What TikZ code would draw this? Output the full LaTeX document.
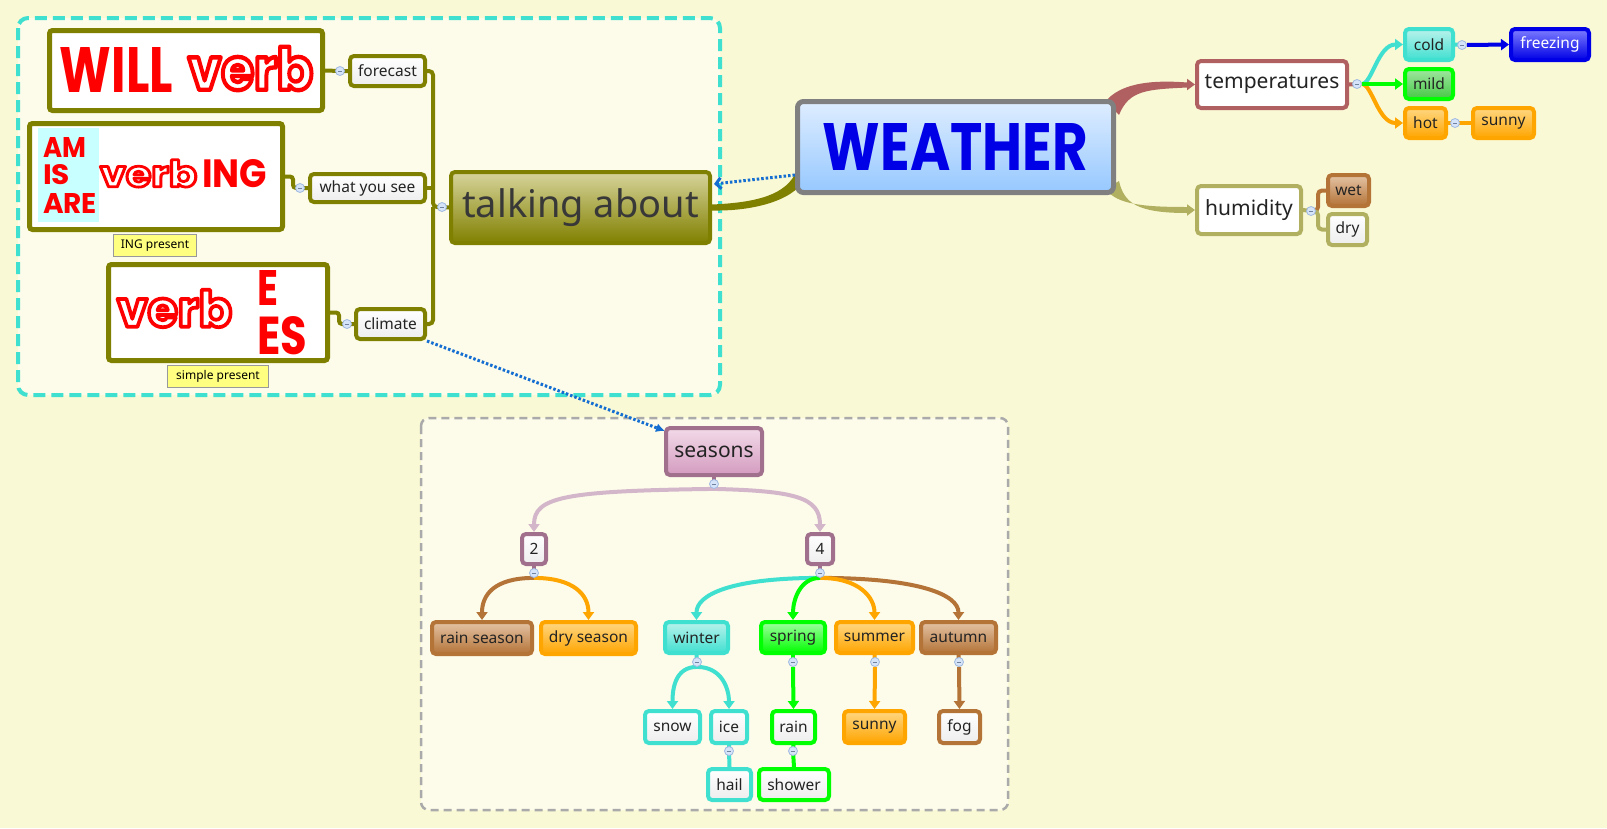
\documentclass[tikz,border=0pt]{standalone}
\usepackage{fontspec}
\usepackage{graphicx}
\usetikzlibrary{arrows.meta,calc,backgrounds}
\setmainfont{Noto Sans}
\newfontfamily\bubble{Poppins}
\definecolor{pagebg}{RGB}{250,249,214}
\definecolor{zonebg}{RGB}{253,252,234}
\definecolor{zonegray}{RGB}{170,170,170}
\definecolor{olivec}{RGB}{128,128,0}
\definecolor{olivelt}{RGB}{215,212,155}
\definecolor{rosec}{RGB}{176,96,96}
\definecolor{khakic}{RGB}{176,176,96}
\definecolor{turq}{RGB}{64,224,208}
\definecolor{turqlt}{RGB}{185,242,236}
\definecolor{limec}{RGB}{0,255,0}
\definecolor{limelt}{RGB}{160,255,160}
\definecolor{mildc}{RGB}{70,200,70}
\definecolor{mildlt}{RGB}{160,230,160}
\definecolor{orangec}{RGB}{255,165,0}
\definecolor{orangelt}{RGB}{255,215,130}
\definecolor{brownc}{RGB}{180,115,55}
\definecolor{brownlt}{RGB}{228,195,165}
\definecolor{bluec}{RGB}{0,0,230}
\definecolor{bluelt}{RGB}{125,125,255}
\definecolor{mauvec}{RGB}{160,112,140}
\definecolor{mauvelt}{RGB}{242,218,232}
\definecolor{mauvefill}{RGB}{212,155,192}
\definecolor{mauvewire}{RGB}{212,182,202}
\definecolor{weatherc}{RGB}{128,128,128}
\definecolor{skytop}{RGB}{222,237,255}
\definecolor{skybot}{RGB}{150,200,255}
\definecolor{linkc}{RGB}{20,110,210}
\definecolor{notec}{RGB}{255,255,128}
\definecolor{cyanbg}{RGB}{200,255,255}
\definecolor{txtc}{RGB}{35,35,35}
\definecolor{foldfill}{RGB}{214,228,250}
\definecolor{folddraw}{RGB}{160,185,225}
\newcommand\bubw[4]{\resizebox{#1pt}{#2pt}{\fontsize{40}{40}\bubble\bfseries\selectfont\color{#3}#4}}
% white letters with a red outline
\newcommand\bubo[3]{\resizebox{#1pt}{#2pt}{\fontsize{40}{40}\bubble\bfseries\selectfont\color{white}%
  \special{pdf:literal direct 2 Tr 3 w 1 j 1 0 0 RG}#3\special{pdf:literal direct 0 Tr}}}
\tikzset{
  mm/.style={line width=4pt, rounded corners=4pt, inner sep=0pt, text=txtc, font=\fontsize{15.5}{18}\selectfont},
  pale/.style={mm, draw=#1, top color=white, bottom color=black!7},
  tint/.style 2 args={mm, draw=#1, top color=#2, bottom color=#1},
  sz/.style 2 args={minimum width=#1pt, minimum height=#2pt},
  big/.style={font=\fontsize{21}{25}\selectfont},
  picframe/.style={draw=olivec, line width=5pt, fill=white, rounded corners=3pt, inner sep=0pt},
  tag/.style={draw=black!40, line width=0.8pt, fill=notec, inner sep=0pt, text=black, font=\fontsize{12}{14}\selectfont},
  bub/.style={inner sep=0pt},
  wire/.style={draw=#1, line width=4pt},
  head/.style={-{Triangle[width=11pt,length=8pt]}},
  dotlink/.style={draw=linkc, line width=3pt, dash pattern=on 2.5pt off 2pt},
  fold/.style={circle, inner sep=0pt, minimum size=9pt, fill=foldfill, draw=folddraw, line width=0.8pt,
    path picture={\draw[folddraw!70!black, line width=0.7pt]
      ($(path picture bounding box.center)+(-2.3,0)$) -- ($(path picture bounding box.center)+(2.3,0)$);}}
}
\begin{document}
\begin{tikzpicture}[x=1pt,y=-1pt]
\useasboundingbox (0,0) rectangle (1607,828);
% central topic
\node[mm, draw=weatherc, line width=5pt, rounded corners=6pt, top color=skytop, bottom color=skybot, sz={316}{91}] (weather) at (955.5,147) {\bubw{265}{47}{bluec}{WEATHER}};
% pictures of the three tenses
\node[picframe, sz={273}{80}] (willbox) at (186,70.5) {};
\node[bub] (willword) at (116.5,69.5) {\bubw{113}{45}{red}{WILL}};
\node[bub] (willverb) at (250.5,68.5) {\bubo{125}{43}{verb}};
\node[picframe, sz={253}{106}] (ingbox) at (156,176.5) {};
\fill[cyanbg] (38,128) rectangle (99,222);
\foreach \w/\x/\y/\b in {AM/64.5/147/43,IS/56.5/175/27,ARE/70/203/54}
  \node[bub] (w-\w) at (\x,\y) {\bubw{\b}{20}{red}{\w}};
\node[bub] (ingverb) at (148.5,173.5) {\bubo{97}{27}{verb}};
\node[bub] (ingword) at (234.5,174) {\bubw{65}{28}{red}{ING}};
\node[tag, sz={83}{22}] (ingnote) at (155,245.5) {ING present};
\node[picframe, sz={219}{96}] (esbox) at (218,312.5) {};
\node[bub] (esverb) at (174.5,308.5) {\bubo{115}{37}{verb}};
\node[bub] (eword) at (267.5,287.5) {\bubw{21}{35}{red}{E}};
\node[bub] (esword) at (282,336) {\bubw{50}{38}{red}{ES}};
\node[tag, sz={101}{22}] (simplenote) at (218,376.5) {simple present};
% talking about
\node[pale=olivec, sz={75}{30}] (forecast) at (387.5,71) {forecast};
\node[pale=olivec, sz={115}{28}] (whatsee) at (367.5,188) {what you see};
\node[pale=olivec, sz={69}{30}] (climate) at (390.5,324) {climate};
\node[mm, draw=olivec, top color=olivelt, bottom color=olivec, text=black!78, font=\fontsize{38}{44}\selectfont, sz={259}{71}] (talking) at (580.5,207.5) {talking about};
% temperatures and humidity
\node[mm, big, draw=rosec, fill=white, sz={150}{47}] (temperatures) at (1272,84.5) {temperatures};
\node[tint={turq}{turqlt}, sz={48}{31}] (cold) at (1429,44.5) {cold};
\node[mm, draw=limec, top color=mildlt, bottom color=mildc, sz={48}{30}] (mild) at (1429,84) {mild};
\node[tint={orangec}{orangelt}, sz={41}{30}] (hot) at (1425.5,123) {hot};
\node[tint={bluec}{bluelt}, text=white, sz={78}{31}] (freezing) at (1550,44.5) {freezing};
\node[tint={orangec}{orangelt}, sz={61}{30}] (sunnyA) at (1503.5,123) {sunny};
\node[mm, big, draw=khakic, fill=white, sz={104}{48}] (humidity) at (1249,210) {humidity};
\node[tint={brownc}{brownlt}, sz={41}{31}] (wet) at (1348.5,190.5) {wet};
\node[pale=khakic, sz={39}{31}] (dry) at (1347.5,229.5) {dry};
% seasons
\node[mm, big, draw=mauvec, top color=mauvelt, bottom color=mauvefill, sz={96}{47}] (seasons) at (714,451.5) {seasons};
\node[pale=mauvec, sz={24}{30}] (two) at (534,549) {2};
\node[pale=mauvec, sz={26}{30}] (four) at (820,549) {4};
\node[tint={brownc}{brownlt}, sz={100}{32}] (rainseason) at (482,638) {rain season};
\node[tint={orangec}{orangelt}, sz={95}{32}] (dryseason) at (588.5,638) {dry season};
\node[tint={turq}{turqlt}, sz={63}{31}] (winter) at (696.5,637.5) {winter};
\node[tint={limec}{limelt}, sz={64}{31}] (spring) at (793,637.5) {spring};
\node[tint={orangec}{orangelt}, sz={77}{31}] (summer) at (874.5,637.5) {summer};
\node[tint={brownc}{brownlt}, sz={75}{31}] (autumn) at (958.5,637.5) {autumn};
\node[pale=turq, sz={55}{32}] (snow) at (672.5,727) {snow};
\node[pale=turq, sz={36}{32}] (ice) at (729,727) {ice};
\node[pale=turq, sz={43}{31}] (hail) at (729.5,784.5) {hail};
\node[pale=limec, sz={43}{32}] (rain) at (793.5,727) {rain};
\node[pale=limec, sz={70}{31}] (shower) at (794,784.5) {shower};
\node[tint={orangec}{orangelt}, sz={61}{32}] (sunnyB) at (874.5,727) {sunny};
\node[pale=brownc, sz={41}{32}] (fog) at (959.5,727) {fog};
% fold markers
\foreach \n/\x/\y in {will/340/71,see/300/188,clim/347/324,talk/442/207,temp/1357/84,cold/1462/45,hot/1455/123,hum/1311/211,seas/714/484,two/534/573,four/820/573,winter/697/662,spring/793/662,summer/875/662,autumn/959/662,ice/729/751,rain/793/751}
  \node[fold] (m-\n) at (\x,\y) {};
%===========================================
\begin{pgfonlayer}{background}
\fill[pagebg] (0,0) rectangle (1607,828);
\draw[turq, line width=4pt, dash pattern=on 12pt off 6pt, rounded corners=10pt, fill=zonebg] (18,18) rectangle (720,395);
\draw[zonegray, line width=2.5pt, dash pattern=on 8pt off 5pt, rounded corners=8pt, fill=zonebg] (421,418) rectangle (1008,810);
% main branches
\fill[olivec] ($(weather.south west)+(2,-25)$) .. controls +(-10,25) and +(45,-2) .. ($(talking.east)+(0,-3)$)
  -- ($(talking.east)+(0,3)$) .. controls +(55,1) and +(0,20) .. ($(weather.south west)+(10,-22)$) -- cycle;
\fill[rosec] ($(weather.north east)+(3,16)$) .. controls +(10,-25) and +(-40,2) .. ($(temperatures.west)+(-8,3)$)
  -- ($(temperatures.west)+(-8,-2)$) .. controls +(-50,-4) and +(10,-12) .. ($(weather.north east)+(-10,2)$) -- cycle;
\draw[wire=rosec, head] ($(temperatures.west)+(-10,0)$) -- (temperatures.west);
\fill[khakic] ($(weather.south east)+(-10,-6)$) .. controls +(10,16) and +(-40,0) .. ($(humidity.west)+(-8,-3)$)
  -- ($(humidity.west)+(-8,3)$) .. controls +(-50,0) and +(5,22) .. ($(weather.south east)+(3,-14)$) -- cycle;
\draw[wire=khakic, head] ($(humidity.west)+(-10,0)$) -- (humidity.west);
% talking about
\draw[wire=olivec] (talking.west) -- (m-talk.center);
\draw[wire=olivec, rounded corners=4pt] (m-talk.center) -- ++(-9,0) coordinate (tk) |- (forecast.east);
\draw[wire=olivec, rounded corners=4pt] (tk) |- (climate.east);
\draw[wire=olivec] (tk |- whatsee.east) -- (whatsee.east);
\draw[wire=olivec] (forecast.west) -- (m-will.center) -- (willbox.east);
\draw[wire=olivec, rounded corners=3pt] (whatsee.west) -- (m-see.center) -- ++(-7,0) |- (ingbox.east);
\draw[wire=olivec, rounded corners=3pt] (climate.west) -- (m-clim.center) -- ++(-8,0) |- (esbox.east);
% relations
\draw[dotlink, -{Straight Barb[length=5pt,width=11pt]}] ($(weather.south west)+(0,-20)$) -- ($(talking.north east)+(2,14)$);
\draw[dotlink, -{Latex[length=9pt,width=9pt]}] (climate.south east) -- ($(seasons.north west)+(1,5)$);
% temperatures
\draw[wire=rosec] (temperatures.east) -- (m-temp.center);
\draw[wire=turq, head] (m-temp.east) .. controls +(10,0) and +(-25,0) .. (cold.west);
\draw[wire=orangec, head] (m-temp.east) .. controls +(10,0) and +(-25,0) .. (hot.west);
\draw[wire=limec, head] (m-temp.east) -- (mild.west);
\draw[wire=turq] (cold.east) -- (m-cold.center);
\draw[wire=bluec, head] (m-cold.east) -- (freezing.west);
\draw[wire=orangec] (hot.east) -- (m-hot.center) -- (sunnyA.west);
% humidity
\draw[wire=khakic] (humidity.east) -- (m-hum.center);
\draw[wire=brownc, rounded corners=4pt] (m-hum.center) -- ++(7,0) |- (wet.west);
\draw[wire=khakic, rounded corners=4pt] (m-hum.center) -- ++(7,0) |- (dry.west);
% seasons
\draw[wire=mauvec] (seasons.south) -- (m-seas.center);
\draw[wire=mauvewire, head] (m-seas.south) .. controls +(-150,2) and +(0,-35) .. (two.north);
\draw[wire=mauvewire, head] (m-seas.south) .. controls +(80,2) and +(0,-35) .. (four.north);
\draw[wire=mauvec] (two.south) -- (m-two.center);
\draw[wire=brownc, head] (m-two.south) .. controls +(-40,0) and +(0,-25) .. (rainseason.north);
\draw[wire=orangec, head] (m-two.south) .. controls +(40,0) and +(0,-25) .. (dryseason.north);
\draw[wire=mauvec] (four.south) -- (m-four.center);
\draw[wire=brownc, head] (m-four.south) .. controls +(100,0) and +(0,-25) .. (autumn.north);
\draw[wire=orangec, head] (m-four.south) .. controls +(40,0) and +(0,-22) .. (summer.north);
\draw[wire=turq, head] (m-four.south) .. controls +(-90,0) and +(0,-25) .. (winter.north);
\draw[wire=limec, head] (m-four.south) .. controls +(-20,0) and +(0,-20) .. (spring.north);
\draw[wire=turq] (winter.south) -- (m-winter.center);
\draw[wire=turq, head] (m-winter.south) .. controls +(-22,0) and +(0,-20) .. (snow.north);
\draw[wire=turq, head] (m-winter.south) .. controls +(25,0) and +(0,-20) .. (ice.north);
\draw[wire=limec] (spring.south) -- (m-spring.center);
\draw[wire=limec, head] (m-spring.south) -- (rain.north);
\draw[wire=orangec] (summer.south) -- (m-summer.center);
\draw[wire=orangec, head] (m-summer.south) -- (sunnyB.north);
\draw[wire=brownc] (autumn.south) -- (m-autumn.center);
\draw[wire=brownc, head] (m-autumn.south) -- (fog.north);
\draw[wire=turq] (ice.south) -- (m-ice.center) -- (hail.north);
\draw[wire=limec] (rain.south) -- (m-rain.center) -- (shower.north);
\end{pgfonlayer}
\end{tikzpicture}
\end{document}
